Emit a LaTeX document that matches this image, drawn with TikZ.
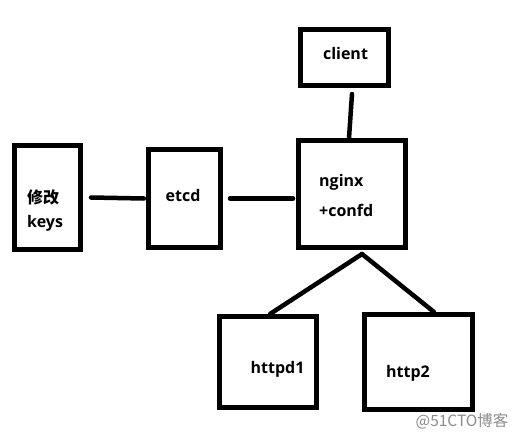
\documentclass[tikz,border=0pt]{standalone}
\usepackage{fontspec}
\setmainfont{Open Sans}
\newfontfamily\cjk{Noto Sans CJK SC}
\usetikzlibrary{positioning}
\tikzstyle{box}=[rectangle, draw=black, line width=5pt, inner sep=0pt]
\tikzstyle{link}=[line width=4.5pt, line cap=round]
\tikzstyle{lbl}=[inner sep=0pt, font=\fontsize{16}{18}\selectfont\bfseries]

\begin{document}
\begin{tikzpicture}[x=1pt, y=-1pt]
\useasboundingbox (0,0) rectangle (521,439);
\node[box, minimum width=66pt, minimum height=104pt] (keys) at (47.5,197.5){};
\node[box, minimum width=72pt, minimum height=98pt] (etcd) at (184.5,198.5){};
\node[box, minimum width=107pt, minimum height=107pt] (nginx) at (352,194){};
\node[box, minimum width=88pt, minimum height=56pt] (client) at (344.5,57.5){};
\node[box, minimum width=97pt, minimum height=91pt] (httpd1) at (268,362){};
\node[box, minimum width=108pt, minimum height=95pt] (http2) at (418.5,362){};
% labels
\node[lbl, anchor=west] (keystxt1) at (27,197){\cjk\bfseries 修改};
\node[lbl, anchor=west] (keystxt2) at (27,223){keys};
\node[lbl] (etcdtxt) at (183,195){etcd};
\node[lbl] (clienttxt) at (345.5,53){client};
\node[lbl, anchor=west] (nginxtxt1) at (319,182){nginx};
\node[lbl, anchor=west] (nginxtxt2) at (319,210){+confd};
\node[lbl] (httpd1txt) at (277.5,369){httpd1};
\node[lbl] (http2txt) at (408,373){http2};
\node[inner sep=0pt, text=black!45, font=\cjk\fontsize{15.5}{17}\selectfont] (mark) at (462,421){@51CTO博客};
% links
\coordinate (fork) at (362,254);
\draw[link]([xshift=8pt]keys.east) -- ([xshift=-2pt]etcd.west);
\draw[link]([xshift=7pt]etcd.east) -- ([xshift=-3pt]nginx.west |- etcd.east);
\draw[link]([xshift=7.5pt, yshift=-6pt]client.south) -- ([xshift=-3pt]nginx.north);
\draw[link](fork) -- ([xshift=2pt]httpd1.north);
\draw[link](fork) -- ([xshift=15.5pt]http2.north);
\end{tikzpicture}
\end{document}
